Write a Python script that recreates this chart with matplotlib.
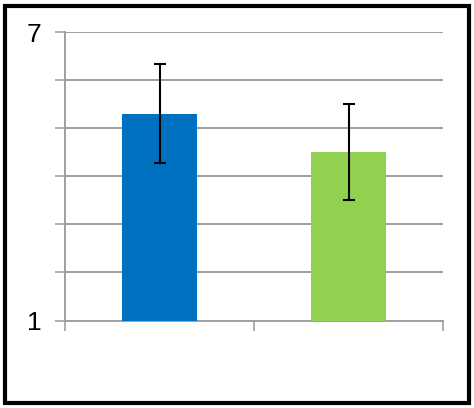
import matplotlib
matplotlib.use('Agg')
from matplotlib import pyplot as plt
from matplotlib.patches import Rectangle

# data
groups = ['A', 'B']
means = [5.3, 4.5]
errors = [1.03, 1.0]
colors = ['#0070C0', '#92D050']
y_ticks = [1, 2, 3, 4, 5, 6, 7]
y_labels = ['1', '', '', '', '', '', '7']

plt.rcParams['font.family'] = ['Liberation Sans', 'DejaVu Sans']

fig = plt.figure(figsize=(4.74, 4.08), dpi=100)
ax = fig.add_axes([65 / 474, 87.5 / 408, 378 / 474, 288.5 / 408])

x = range(len(groups))
ax.bar(x, means, width=0.4, bottom=0, color=colors, zorder=3)
ax.errorbar(x, means, yerr=errors, fmt='none', ecolor='black',
            elinewidth=1.5, capsize=4, capthick=1.5, zorder=4)

ax.set_xlim(-0.5, 1.5)
ax.set_ylim(1, 7)
ax.set_yticks(y_ticks)
ax.set_yticklabels(y_labels, fontsize=19)
ax.set_xticks([-0.5, 0.5, 1.5])
ax.set_xticklabels([])
ax.yaxis.grid(True, color='#a0a0a0', linewidth=1.4, zorder=0)
ax.tick_params(axis='y', length=7, width=1.2, color='#a0a0a0', pad=10)
ax.tick_params(axis='x', length=7, width=1.2, color='#a0a0a0', direction='out')

for side in ['top', 'right']:
    ax.spines[side].set_visible(False)
for side in ['left', 'bottom']:
    ax.spines[side].set_color('#a0a0a0')
    ax.spines[side].set_linewidth(1.4)

# outer frame
fig.patches.append(Rectangle((5 / 474, 5 / 408), 464 / 474, 397 / 408,
                             transform=fig.transFigure, fill=False,
                             edgecolor='black', linewidth=3))

fig.savefig('out.png', dpi=100)
